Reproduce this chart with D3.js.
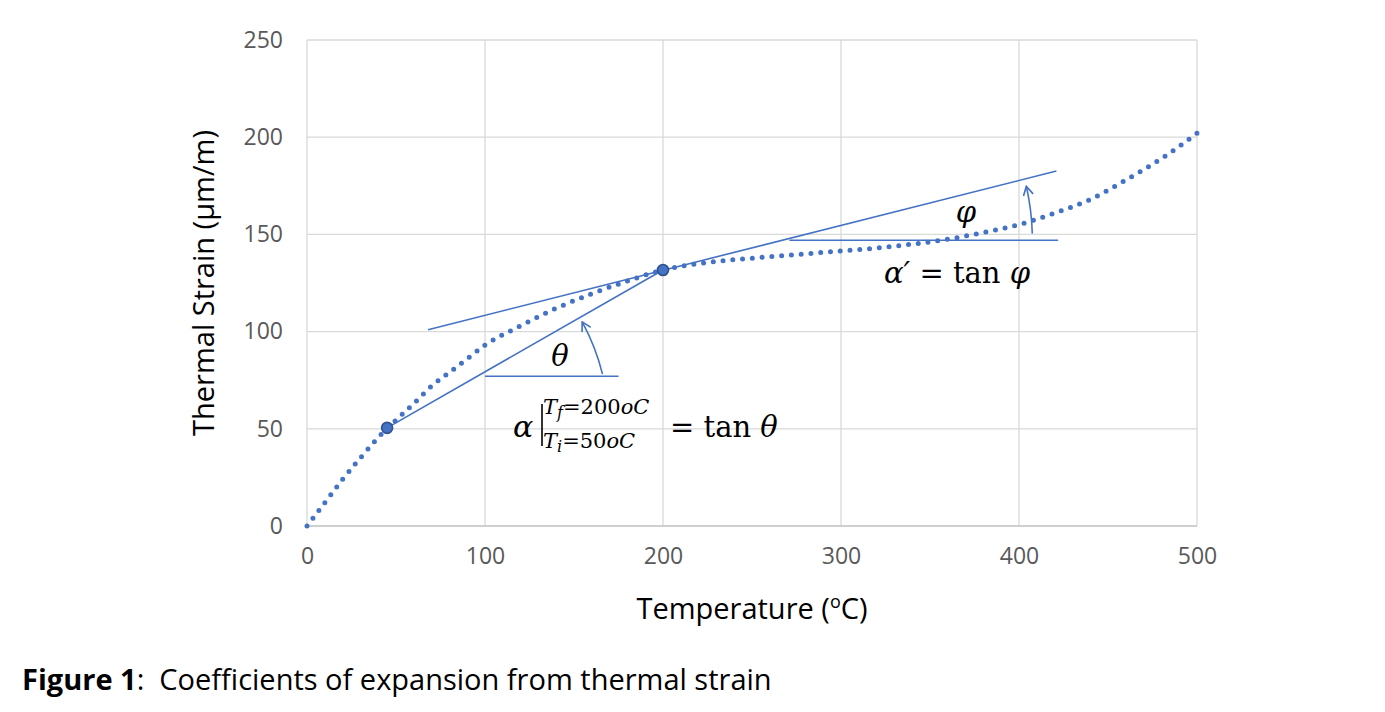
<!DOCTYPE html>
<html>
<head>
<meta charset="utf-8">
<script src="https://cdn.jsdelivr.net/npm/d3@7"></script>
<style>
  body { margin: 0; background: #fff; }
  text { font-family: "Open Sans", Lato, sans-serif; white-space: pre; }
  .math { font-family: "DejaVu Serif", "Liberation Serif", serif; }
</style>
</head>
<body>
<div id="chart"></div>
<script>
// Thermal strain curve (temperature in oC, strain in um/m)
const temps  = [0, 10, 20, 30, 40, 50, 60, 70, 80, 90, 100, 120, 140, 160, 180, 200,
                220, 240, 260, 280, 300, 320, 340, 360, 380, 400, 420, 440, 460, 480, 500];
const strain = [0, 12, 24, 35, 45.5, 54.5, 63, 72, 79, 86, 93, 103, 112, 119.5, 126, 131.7,
                135, 137, 138.5, 140, 141.5, 143, 145, 147.5, 151, 155, 161, 168, 178, 189, 202];

// highlighted points (Ti and Tf)
const markTemps  = [45, 200];
const markStrain = [50.5, 131.7];

const xTicks = [0, 100, 200, 300, 400, 500];
const yTicks = [0, 50, 100, 150, 200, 250];

// construction lines [x1, y1, x2, y2] in data units
const guideLines = [
  [68, 101, 421, 182.6],    // tangent at 200
  [45, 50.5, 200, 131.7],   // secant 50 -> 200
  [100, 77, 175, 77],       // horizontal for theta
  [271, 147, 422, 147]      // horizontal for phi
];
// angle arcs: centre (data), radius (px), start/end angle (deg)
const arcs = [
  { cx: 45, cy: 50.5, r: 222, a0: 14, a1: 28.5 },
  { cx: 271, cy: 147, r: 243, a0: 1.6, a1: 12.8 }
];

const width = 1385, height = 712;
const svg = d3.select("#chart").append("svg")
  .attr("width", width)
  .attr("height", height);

const x = d3.scaleLinear().domain([0, 500]).range([307, 1197]);
const y = d3.scaleLinear().domain([0, 250]).range([526, 40]);

const blue = "#4472C4";

// gridlines
svg.append("g")
  .selectAll("line")
  .data(yTicks.slice(1))
  .enter()
  .append("line")
  .attr("x1", x(0)).attr("x2", x(500))
  .attr("y1", d => y(d)).attr("y2", d => y(d))
  .attr("stroke", "#d9d9d9").attr("stroke-width", 1.3);
svg.append("g")
  .selectAll("line")
  .data(xTicks)
  .enter()
  .append("line")
  .attr("x1", d => x(d)).attr("x2", d => x(d))
  .attr("y1", y(0)).attr("y2", y(250))
  .attr("stroke", "#d9d9d9").attr("stroke-width", 1.3);
// x axis line
svg.append("line")
  .attr("x1", x(0)).attr("x2", x(500))
  .attr("y1", y(0)).attr("y2", y(0))
  .attr("stroke", "#bfbfbf").attr("stroke-width", 1.5);

// tick labels via axes
const xAxis = svg.append("g")
  .attr("transform", `translate(0,${y(0)})`)
  .call(d3.axisBottom(x).tickValues(xTicks).tickSize(0).tickPadding(22));
const yAxis = svg.append("g")
  .attr("transform", `translate(${x(0)},0)`)
  .call(d3.axisLeft(y).tickValues(yTicks).tickSize(0).tickPadding(24));
[xAxis, yAxis].forEach(g => {
  g.select(".domain").remove();
  g.selectAll("text")
    .attr("font-family", "'Open Sans', sans-serif")
    .attr("font-size", 23)
    .attr("fill", "#595959");
});

// dotted strain curve
const curveData = temps.map((t, i) => [t, strain[i]]);
svg.append("path")
  .datum(curveData)
  .attr("fill", "none")
  .attr("stroke", blue)
  .attr("stroke-width", 5)
  .attr("stroke-linecap", "round")
  .attr("stroke-dasharray", "0 9.8")
  .attr("d", d3.line().x(d => x(d[0])).y(d => y(d[1])).curve(d3.curveMonotoneX));

// construction lines
svg.append("g")
  .selectAll("line")
  .data(guideLines)
  .enter()
  .append("line")
  .attr("x1", d => x(d[0])).attr("y1", d => y(d[1]))
  .attr("x2", d => x(d[2])).attr("y2", d => y(d[3]))
  .attr("stroke", blue).attr("stroke-width", 1.6);

// arrow marker
svg.append("defs").append("marker")
  .attr("id", "arrow")
  .attr("viewBox", "0 0 10 10")
  .attr("refX", 9).attr("refY", 5)
  .attr("markerWidth", 11).attr("markerHeight", 11)
  .attr("markerUnits", "userSpaceOnUse")
  .attr("orient", "auto")
  .append("path")
  .attr("d", "M1,0.5 L9,5 L1,9.5")
  .attr("fill", "none")
  .attr("stroke", blue)
  .attr("stroke-width", 1.5);

svg.append("g")
  .selectAll("path")
  .data(arcs)
  .enter()
  .append("path")
  .attr("fill", "none")
  .attr("stroke", blue)
  .attr("stroke-width", 1.6)
  .attr("marker-end", "url(#arrow)")
  .attr("d", d => {
    const cx = x(d.cx), cy = y(d.cy);
    const a0 = d.a0 * Math.PI / 180, a1 = d.a1 * Math.PI / 180;
    const sx = cx + d.r * Math.cos(a0), sy = cy - d.r * Math.sin(a0);
    const ex = cx + d.r * Math.cos(a1), ey = cy - d.r * Math.sin(a1);
    return `M${sx},${sy} A${d.r},${d.r} 0 0 0 ${ex},${ey}`;
  });

// highlighted points
svg.append("g")
  .selectAll("circle")
  .data(markTemps.map((t, i) => [t, markStrain[i]]))
  .enter()
  .append("circle")
  .attr("cx", d => x(d[0])).attr("cy", d => y(d[1]))
  .attr("r", 5.5)
  .attr("fill", blue)
  .attr("stroke", "#2F528F")
  .attr("stroke-width", 1.6);

// math annotations
svg.append("text").attr("class", "math")
  .attr("x", 560).attr("y", 366)
  .attr("text-anchor", "middle")
  .attr("font-size", 29).attr("font-style", "italic")
  .text("θ");
svg.append("text").attr("class", "math")
  .attr("x", 966).attr("y", 222)
  .attr("text-anchor", "middle")
  .attr("font-size", 29).attr("font-style", "italic")
  .text("φ");

const aPrime = svg.append("text").attr("class", "math")
  .attr("x", 884).attr("y", 283).attr("font-size", 29);
aPrime.append("tspan").attr("font-style", "italic").text("α′");
aPrime.append("tspan").text(" = tan ");
aPrime.append("tspan").attr("font-style", "italic").text("φ");

svg.append("text").attr("class", "math")
  .attr("x", 513).attr("y", 437).attr("font-size", 30)
  .attr("font-style", "italic").text("α");
svg.append("line")
  .attr("x1", 542).attr("x2", 542).attr("y1", 404).attr("y2", 446)
  .attr("stroke", "#000").attr("stroke-width", 1.6);
const sup = svg.append("text").attr("class", "math")
  .attr("x", 543).attr("y", 414).attr("font-size", 21);
sup.append("tspan").attr("font-style", "italic").text("T");
sup.append("tspan").attr("font-style", "italic").attr("font-size", 16).attr("dy", 4).text("f");
sup.append("tspan").attr("dy", -4).text("=200");
sup.append("tspan").attr("font-style", "italic").text("oC");
const sub = svg.append("text").attr("class", "math")
  .attr("x", 543).attr("y", 448).attr("font-size", 21);
sub.append("tspan").attr("font-style", "italic").text("T");
sub.append("tspan").attr("font-style", "italic").attr("font-size", 16).attr("dy", 4).text("i");
sub.append("tspan").attr("dy", -4).text("=50");
sub.append("tspan").attr("font-style", "italic").text("oC");
const tanT = svg.append("text").attr("class", "math")
  .attr("x", 670).attr("y", 437).attr("font-size", 29);
tanT.append("tspan").text("= tan ");
tanT.append("tspan").attr("font-style", "italic").text("θ");

// axis titles
svg.append("text")
  .attr("transform", `translate(214,${(y(0) + y(250)) / 2}) rotate(-90)`)
  .attr("text-anchor", "middle")
  .attr("font-size", 29)
  .attr("fill", "#000")
  .text("Thermal Strain (µm/m)");
const xt = svg.append("text")
  .attr("x", (x(0) + x(500)) / 2).attr("y", 619)
  .attr("text-anchor", "middle")
  .attr("font-size", 29)
  .attr("fill", "#000");
xt.append("tspan").text("Temperature (");
xt.append("tspan").attr("font-size", 18).attr("dy", -11).text("o");
xt.append("tspan").attr("dy", 11).text("C)");

// caption
const cap = svg.append("text")
  .attr("x", 22).attr("y", 690)
  .attr("font-size", 29)
  .attr("fill", "#000");
cap.append("tspan").attr("font-weight", "bold").text("Figure 1");
cap.append("tspan").text(":  Coefficients of expansion from thermal strain");
</script>
</body>
</html>
